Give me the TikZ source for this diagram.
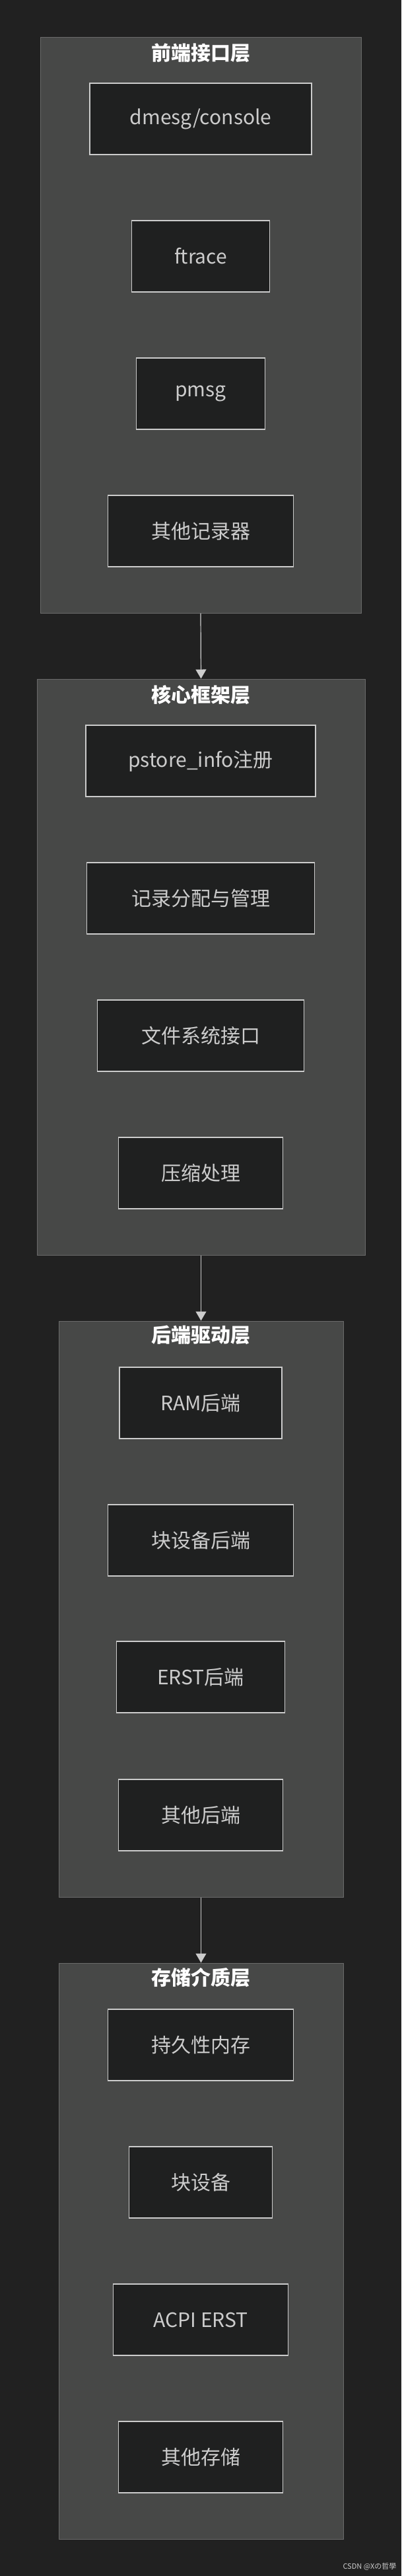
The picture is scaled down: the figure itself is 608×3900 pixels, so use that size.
\documentclass[tikz,border=0pt]{standalone}
\usepackage{fontspec}
\setmainfont{Noto Sans CJK SC}
\usetikzlibrary{positioning, arrows.meta}
\definecolor{bgc}{HTML}{212121}
\definecolor{layerc}{HTML}{474847}
\definecolor{layerb}{HTML}{6A6A6A}
\definecolor{boxc}{HTML}{1F2020}
\definecolor{linec}{HTML}{CCCCCC}
\tikzset{
  layer/.style={draw=layerb, line width=1pt, fill=layerc, inner sep=0pt, minimum height=872pt},
  title/.style={text=white, font=\fontsize{30}{34}\selectfont\bfseries},
  item/.style={draw=linec, line width=1.2pt, fill=boxc, text=linec,
    minimum height=108pt, inner sep=0pt, font=\fontsize{30}{34}\selectfont},
  flow/.style={draw=linec, line width=1.2pt, -{Triangle[width=16pt,length=14pt]}}
}
\begin{document}
\begin{tikzpicture}[x=1pt, y=-1pt]
    % Background
    \fill[bgc] (0,0) rectangle (608,3900);
    \useasboundingbox (0,0) rectangle (608,3900);
    % Layers
    \node[layer, minimum width=486pt] (front) at (304,492) {};
    \node[layer, minimum width=497pt] (core) at (304.5,1464) {};
    \node[layer, minimum width=431pt] (back) at (304.5,2436) {};
    \node[layer, minimum width=431pt] (media) at (304.5,3408) {};
    \node[title] (fronttitle) at (304,80) {前端接口层};
    \node[title] (coretitle) at (304,1052) {核心框架层};
    \node[title] (backtitle) at (304,2021) {后端驱动层};
    \node[title] (mediatitle) at (304,2994) {存储介质层};
    % Front-end boxes
    \node[item, minimum width=336pt] (dmesg) at (304,180) {dmesg/console};
    \node[item, minimum width=209pt] (ftrace) at (304,388) {ftrace};
    \node[item, minimum width=195pt] (pmsg) at (304,596) {pmsg};
    \node[item, minimum width=281pt] (otherlog) at (304,804) {其他记录器};
    % Core boxes
    \node[item, minimum width=348pt] (pinfo) at (304,1152) {pstore\_info注册};
    \node[item, minimum width=345pt] (alloc) at (304,1360) {记录分配与管理};
    \node[item, minimum width=313pt] (fsif) at (304,1568) {文件系统接口};
    \node[item, minimum width=249pt] (compress) at (304,1776) {压缩处理};
    % Backend boxes
    \node[item, minimum width=246pt] (ramb) at (304,2124) {RAM后端};
    \node[item, minimum width=281pt] (blkb) at (304,2332) {块设备后端};
    \node[item, minimum width=255pt] (erstb) at (304,2539) {ERST后端};
    \node[item, minimum width=249pt] (otherb) at (304,2748) {其他后端};
    % Media boxes
    \node[item, minimum width=281pt] (pmem) at (304,3096) {持久性内存};
    \node[item, minimum width=217pt] (blkdev) at (304,3304) {块设备};
    \node[item, minimum width=265pt] (acpi) at (304,3512) {ACPI ERST};
    \node[item, minimum width=249pt] (otherm) at (304,3720) {其他存储};
    % Flow between layers
    \draw[flow] (front.south) -- (core.north);
    \draw[flow] (core.south) -- (back.north);
    \draw[flow] (back.south) -- (media.north);
    % Watermark
    \node[text=linec, font=\fontsize{11}{12}\selectfont, anchor=east] (mark) at (604,3886) {CSDN @Xの哲學};
\end{tikzpicture}
\end{document}
